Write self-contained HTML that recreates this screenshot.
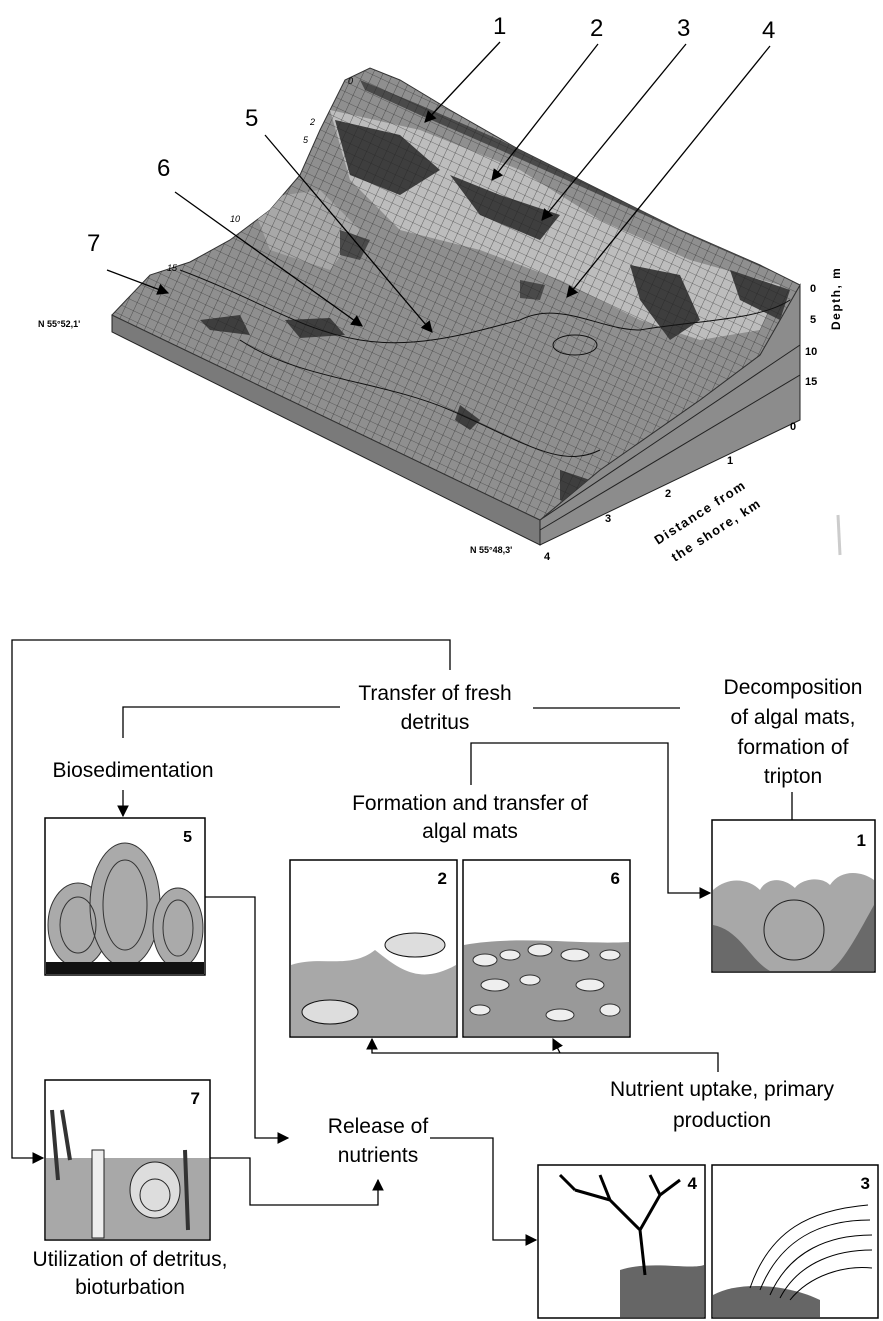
<!DOCTYPE html>
<html><head><meta charset="utf-8"><style>
html,body{margin:0;padding:0;background:#fff;}
svg{display:block;}
text{font-family:"Liberation Sans",Arial,sans-serif;}
</style></head><body>
<svg width="883" height="1321" viewBox="0 0 883 1321" xmlns="http://www.w3.org/2000/svg">
<defs>
<pattern id="grid" width="9" height="9" patternUnits="userSpaceOnUse" patternTransform="rotate(25)">
<rect width="9" height="9" fill="none"/>
<path d="M0 0H9M0 0V9" stroke="#222" stroke-width="0.6"/>
</pattern>
<marker id="ah" viewBox="0 0 10 10" refX="9" refY="5" markerWidth="9" markerHeight="9" orient="auto-start-reverse"><path d="M0 0L10 5L0 10z" fill="#000"/></marker>
<clipPath id="surf"><polygon points="112,315 150,275 190,262 230,240 270,210 300,175 320,130 345,80 370,68 400,80 450,110 520,150 600,190 680,230 760,265 800,285 760,355 700,400 600,470 540,520"/></clipPath>
</defs>

<polygon points="112,315 540,520 540,545 112,332" fill="#7a7a7a" stroke="#222"/>
<polygon points="540,520 600,470 700,400 760,355 800,285 800,420 540,545" fill="#8c8c8c" stroke="#222"/>
<line x1="540" y1="520" x2="800" y2="345" stroke="#222"/>
<line x1="540" y1="530" x2="800" y2="375" stroke="#222"/>
<polygon points="112,315 150,275 190,262 230,240 270,210 300,175 320,130 345,80 370,68 400,80 450,110 520,150 600,190 680,230 760,265 800,285 760,355 700,400 600,470 540,520" fill="#8f8f8f" stroke="#333"/>
<g clip-path="url(#surf)">
<polygon points="330,110 420,130 520,170 600,220 690,260 780,285 760,330 700,340 640,320 560,280 480,250 400,230 350,180" fill="#bdbdbd"/>
<polygon points="250,200 320,190 360,230 330,270 270,250" fill="#a8a8a8"/>
<polygon points="335,120 400,135 440,170 400,195 350,175" fill="#3e3e3e"/>
<polygon points="450,175 500,195 560,215 540,240 480,215" fill="#3e3e3e"/>
<polygon points="630,265 680,275 700,320 670,340 640,300" fill="#3e3e3e"/>
<polygon points="730,270 790,290 780,320 740,300" fill="#3e3e3e"/>
<polygon points="340,230 370,240 360,260 340,255" fill="#4a4a4a"/>
<polygon points="520,280 545,285 540,300 520,298" fill="#4a4a4a"/>
<polygon points="360,80 420,105 500,140 560,170 640,210 720,245 790,280 800,285 780,275 700,240 600,195 500,150 420,115 365,90" fill="#4a4a4a"/>
<polygon points="200,320 240,315 250,335 210,330" fill="#3e3e3e"/>
<polygon points="285,320 330,318 345,335 300,338" fill="#3e3e3e"/>
<polygon points="460,405 480,420 470,430 455,420" fill="#3e3e3e"/>
<polygon points="560,470 590,480 580,505 560,500" fill="#3e3e3e"/>
<rect x="100" y="60" width="720" height="480" fill="url(#grid)"/>
</g>
<g fill="none" stroke="#111" stroke-width="1">
<path d="M180,270 C260,300 300,330 360,340 C420,350 480,330 520,320"/>
<path d="M240,340 C300,380 380,380 450,410 C520,440 560,470 600,450"/>
<path d="M520,320 C560,300 600,330 640,330 C700,320 760,320 790,300"/>
<ellipse cx="575" cy="345" rx="22" ry="10"/>
</g>
<g font-size="9" font-style="italic" fill="#000">
<text x="348" y="84">0</text><text x="310" y="125">2</text><text x="303" y="143">5</text>
<text x="230" y="222">10</text><text x="167" y="271">15</text>
</g>
<g font-size="11" font-weight="bold" fill="#000">
<text x="810" y="292">0</text><text x="810" y="323">5</text><text x="805" y="355">10</text><text x="805" y="385">15</text>
<text x="790" y="430">0</text><text x="727" y="464">1</text><text x="665" y="497">2</text><text x="605" y="522">3</text><text x="544" y="560">4</text>
<text x="470" y="553" font-size="9">N 55°48,3'</text>
<text x="38" y="327" font-size="9">N 55°52,1'</text>
<text transform="translate(840,330) rotate(-90)" font-size="12" letter-spacing="1.5">Depth, m</text>
<text transform="translate(658,545) rotate(-33)" font-size="13" letter-spacing="1.5">Distance from</text>
<text transform="translate(675,562) rotate(-33)" font-size="13" letter-spacing="1.5">the shore, km</text>
</g>
<g font-size="24" fill="#000">
<text x="493" y="34">1</text><text x="590" y="36">2</text><text x="677" y="36">3</text><text x="762" y="38">4</text>
<text x="245" y="126">5</text><text x="157" y="176">6</text><text x="87" y="251">7</text>
</g>
<g stroke="#000" stroke-width="1.3" marker-end="url(#ah)">
<line x1="500" y1="42" x2="425" y2="122"/>
<line x1="598" y1="44" x2="492" y2="180"/>
<line x1="686" y1="44" x2="542" y2="220"/>
<line x1="770" y1="46" x2="567" y2="297"/>
<line x1="265" y1="135" x2="432" y2="332"/>
<line x1="175" y1="192" x2="362" y2="326"/>
<line x1="107" y1="270" x2="168" y2="293"/>
</g>
<line x1="838" y1="515" x2="840" y2="555" stroke="#ccc" stroke-width="3"/>

<g stroke="#000" stroke-width="1.3" fill="none">
<polyline points="450,670 450,640 12,640 12,1158 43,1158" marker-end="url(#ah)"/>
<polyline points="340,707 123,707 123,738"/>
<line x1="123" y1="790" x2="123" y2="816" marker-end="url(#ah)"/>
<line x1="533" y1="708" x2="680" y2="708"/>
<line x1="792" y1="792" x2="792" y2="820"/>
<polyline points="471,785 471,743 668,743 668,893 710,893" marker-end="url(#ah)"/>
<polyline points="205,897 255,897 255,1138 288,1138" marker-end="url(#ah)"/>
<polyline points="210,1158 250,1158 250,1205 378,1205 378,1180" marker-end="url(#ah)"/>
<polyline points="430,1138 493,1138 493,1240 536,1240" marker-end="url(#ah)"/>
<polyline points="718,1072 718,1053 372,1053 372,1039" marker-end="url(#ah)"/>
<line x1="560" y1="1053" x2="553" y2="1039" marker-end="url(#ah)"/>
</g>
<g font-size="21" fill="#000" text-anchor="middle">
<text x="435" y="700">Transfer of fresh</text><text x="435" y="729">detritus</text>
<text x="793" y="694">Decomposition</text><text x="793" y="724">of algal mats,</text><text x="793" y="754">formation of</text><text x="793" y="783">tripton</text>
<text x="133" y="777">Biosedimentation</text>
<text x="470" y="810">Formation and transfer of</text><text x="470" y="838">algal mats</text>
<text x="722" y="1096">Nutrient uptake, primary</text><text x="722" y="1127">production</text>
<text x="378" y="1133">Release of</text><text x="378" y="1162">nutrients</text>
<text x="130" y="1266">Utilization of detritus,</text><text x="130" y="1294">bioturbation</text>
</g>

<rect x="45" y="818" width="160" height="157" fill="#fff" stroke="#000" stroke-width="1.5"/>
<g fill="#aaa" stroke="#333" stroke-width="1">
<ellipse cx="78" cy="925" rx="30" ry="42"/>
<ellipse cx="125" cy="905" rx="35" ry="62"/>
<ellipse cx="178" cy="928" rx="25" ry="40"/>
</g>
<g stroke="#333" fill="none"><ellipse cx="125" cy="905" rx="22" ry="45"/><ellipse cx="78" cy="925" rx="18" ry="28"/><ellipse cx="178" cy="928" rx="15" ry="28"/></g>
<rect x="46" y="962" width="158" height="12" fill="#111"/>
<text x="192" y="842" font-size="16" font-weight="bold" text-anchor="end">5</text>

<rect x="290" y="860" width="167" height="177" fill="#fff" stroke="#000" stroke-width="1.5"/>
<path d="M291,965 C320,955 350,970 375,950 C400,970 420,985 456,965 L456,1036 L291,1036Z" fill="#a8a8a8"/>
<ellipse cx="415" cy="945" rx="30" ry="12" fill="#ddd" stroke="#111"/>
<ellipse cx="330" cy="1012" rx="28" ry="12" fill="#ddd" stroke="#111"/>
<text x="447" y="884" font-size="17" font-weight="bold" text-anchor="end">2</text>

<rect x="463" y="860" width="167" height="177" fill="#fff" stroke="#000" stroke-width="1.5"/>
<path d="M464,945 C520,935 580,945 629,942 L629,1036 L464,1036Z" fill="#999"/>
<g fill="#eee" stroke="#333">
<ellipse cx="485" cy="960" rx="12" ry="6"/><ellipse cx="510" cy="955" rx="10" ry="5"/><ellipse cx="540" cy="950" rx="12" ry="6"/><ellipse cx="575" cy="955" rx="14" ry="6"/><ellipse cx="610" cy="955" rx="10" ry="5"/>
<ellipse cx="495" cy="985" rx="14" ry="6"/><ellipse cx="530" cy="980" rx="10" ry="5"/><ellipse cx="590" cy="985" rx="14" ry="6"/>
<ellipse cx="480" cy="1010" rx="10" ry="5"/><ellipse cx="560" cy="1015" rx="14" ry="6"/><ellipse cx="610" cy="1010" rx="10" ry="6"/>
</g>
<text x="620" y="884" font-size="17" font-weight="bold" text-anchor="end">6</text>

<rect x="712" y="820" width="163" height="152" fill="#fff" stroke="#000" stroke-width="1.5"/>
<path d="M713,890 C730,875 750,880 760,890 C765,880 780,875 795,888 C800,880 820,875 830,885 C840,870 860,870 874,880 L874,971 L713,971Z" fill="#a8a8a8"/>
<path d="M713,925 C740,930 750,960 770,971 L713,971Z" fill="#6a6a6a"/>
<path d="M874,905 C860,930 845,960 830,971 L874,971Z" fill="#6a6a6a"/>
<circle cx="794" cy="930" r="30" fill="none" stroke="#222"/>
<text x="866" y="846" font-size="17" font-weight="bold" text-anchor="end">1</text>

<rect x="45" y="1080" width="165" height="160" fill="#fff" stroke="#000" stroke-width="1.5"/>
<rect x="46" y="1158" width="163" height="81" fill="#a8a8a8"/>
<ellipse cx="155" cy="1190" rx="25" ry="28" fill="#ddd" stroke="#222"/>
<ellipse cx="155" cy="1195" rx="15" ry="16" fill="none" stroke="#222"/>
<rect x="92" y="1150" width="12" height="88" fill="#eee" stroke="#222"/>
<path d="M52,1110 L58,1180 M62,1110 L70,1160 M185,1150 L188,1230" stroke="#333" stroke-width="4" fill="none"/>
<text x="200" y="1104" font-size="17" font-weight="bold" text-anchor="end">7</text>

<rect x="538" y="1165" width="167" height="153" fill="#fff" stroke="#000" stroke-width="1.5"/>
<path d="M620,1317 L620,1270 C650,1260 690,1270 704,1265 L704,1317Z" fill="#666"/>
<g stroke="#000" stroke-width="3" fill="none">
<path d="M645,1275 L640,1230 L610,1200 L600,1175 M610,1200 L575,1190 M640,1230 L660,1195 L680,1180 M575,1190 L560,1175 M660,1195 L650,1175"/>
</g>
<text x="697" y="1189" font-size="17" font-weight="bold" text-anchor="end">4</text>

<rect x="712" y="1165" width="166" height="153" fill="#fff" stroke="#000" stroke-width="1.5"/>
<path d="M713,1295 C740,1280 790,1285 820,1300 L820,1317 L713,1317Z" fill="#666"/>
<g stroke="#000" fill="none" stroke-width="1">
<path d="M760,1290 C780,1240 820,1220 870,1220"/>
<path d="M770,1295 C790,1250 830,1235 872,1235"/>
<path d="M780,1298 C800,1260 840,1250 872,1250"/>
<path d="M790,1300 C810,1275 845,1265 872,1268"/>
<path d="M750,1288 C770,1230 810,1210 868,1205"/>
</g>
<text x="870" y="1189" font-size="17" font-weight="bold" text-anchor="end">3</text>
</svg>
</body></html>
